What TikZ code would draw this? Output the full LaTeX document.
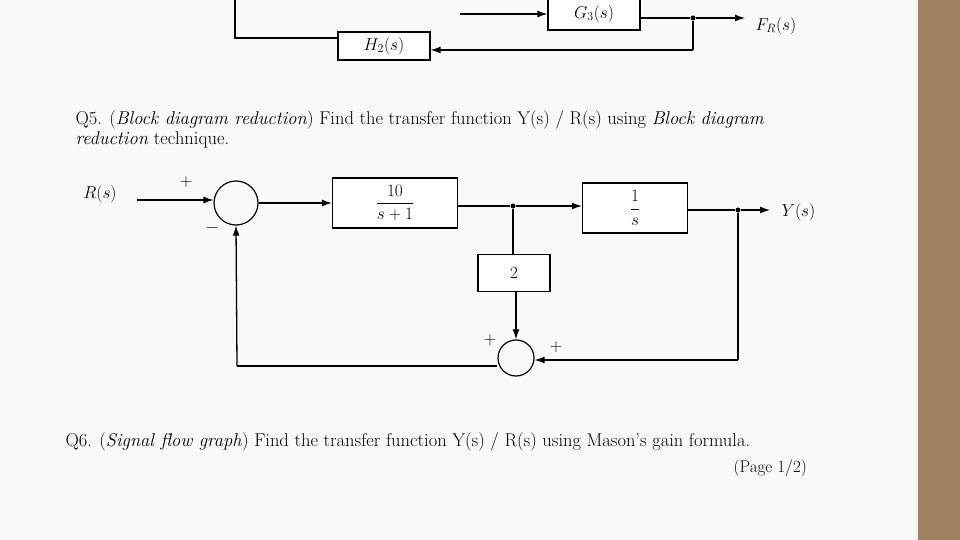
\documentclass[tikz,border=0pt]{standalone}
\usepackage{amsmath}
\usetikzlibrary{arrows.meta}
\begin{document}
\begin{tikzpicture}[x=1pt,y=-1pt,
  blk/.style={draw,line width=1.2pt,minimum width=#1,inner sep=0pt,fill=white,font=\fontsize{17}{19}\selectfont},
  blk/.default=100pt,
  sig/.style={line width=1.3pt,-{Latex[length=10pt,width=7pt]}},
  wire/.style={line width=1.3pt},
  sumc/.style={draw,line width=1.2pt,circle,inner sep=0pt},
  dot/.style={circle,fill=black,inner sep=0pt,minimum size=5pt},
  lbl/.style={font=\fontsize{17}{19}\selectfont},
  txt/.style={font=\fontsize{18.5}{21}\selectfont}]
\useasboundingbox (0,0) rectangle (960,540);
\fill[gray!12] (0,0) rectangle (960,540);
\fill[gray!5] (0,0) rectangle (915,540);
\fill[brown!50!gray] (918,0) rectangle (960,540);
% top partial figure
\node[blk=92pt,minimum height=32pt] (g3) at (594,14) {$G_3(s)$};
\coordinate (g3in) at (460,14);
\draw[sig] (g3in) -- (g3.west);
\node[dot] (d0) at (693,18) {};
\coordinate (fr) at (745,18);
\draw[wire] (g3.east|-d0) -- (d0);
\draw[sig] (d0) -- (fr);
\node[lbl,anchor=west] (frl) at (752,26) {$F_R(s)$};
\node[blk=92pt,minimum height=28pt] (h2) at (384,46) {$H_2(s)$};
\coordinate (c1) at (693,50);
\coordinate (c2) at (235,0);
\coordinate (c3) at (235,38);
\draw[wire] (d0) -- (c1);
\draw[sig] (c1) -- (h2.east|-c1);
\draw[wire] (c2) -- (c3) -- (h2.west|-c3);
% Q5 text
\node[anchor=west,txt] (q5a) at (72,120) {Q5. (\textit{Block diagram reduction}) Find the transfer function Y(s) / R(s) using \textit{Block diagram}};
\node[anchor=west,txt] (q5b) at (72,140) {\textit{reduction} technique.};
% Q5 diagram
\node[lbl] (r) at (100,194) {$R(s)$};
\coordinate (rs) at (137,200);
\node[sumc,minimum size=44pt] (s1) at (236,203) {};
\draw[sig] (rs) -- (s1.west|-rs);
\node[lbl] (p1) at (186,182) {$+$};
\node[lbl] (m1) at (212,228) {$-$};
\node[blk=125pt,minimum height=50pt] (g1) at (395,203) {$\dfrac{10}{s+1}$};
\draw[sig] (s1.east) -- (g1.west);
\node[dot] (d1) at (513,206) {};
\node[blk=105pt,minimum height=50pt] (g2) at (635,208) {$\dfrac{1}{s}$};
\draw[wire] (g1.east|-d1) -- (d1);
\draw[sig] (d1) -- (g2.west|-d1);
\node[dot] (d2) at (738,210) {};
\coordinate (yo) at (770,210);
\draw[wire] (g2.east|-d2) -- (d2);
\draw[sig] (d2) -- (yo);
\node[lbl,anchor=west] (y) at (778,212) {$Y(s)$};
\node[blk=72pt,minimum height=37pt] (k) at (514,273) {2};
\draw[wire] (d1) -- (k.north-|d1);
\node[sumc,minimum size=36pt] (s2) at (516,358) {};
\draw[sig] (k.south-|s2) -- (s2.north);
\node[lbl] (p2) at (490,340) {$+$};
\node[lbl] (p3) at (556,347) {$+$};
\coordinate (c4) at (738,360);
\draw[wire] (d2) -- (c4);
\draw[sig] (c4) -- (s2.east|-c4);
\coordinate (c5) at (237,366);
\draw[wire] (s2.west|-c5) -- (c5);
\draw[sig] (c5) -- (s1.south);
% Q6
\node[anchor=west,txt] (q6) at (62,442) {Q6. (\textit{Signal flow graph}) Find the transfer function Y(s) / R(s) using Mason's gain formula.};
\node[anchor=west,lbl] (pg) at (730,468) {(Page 1/2)};
\end{tikzpicture}
\end{document}
